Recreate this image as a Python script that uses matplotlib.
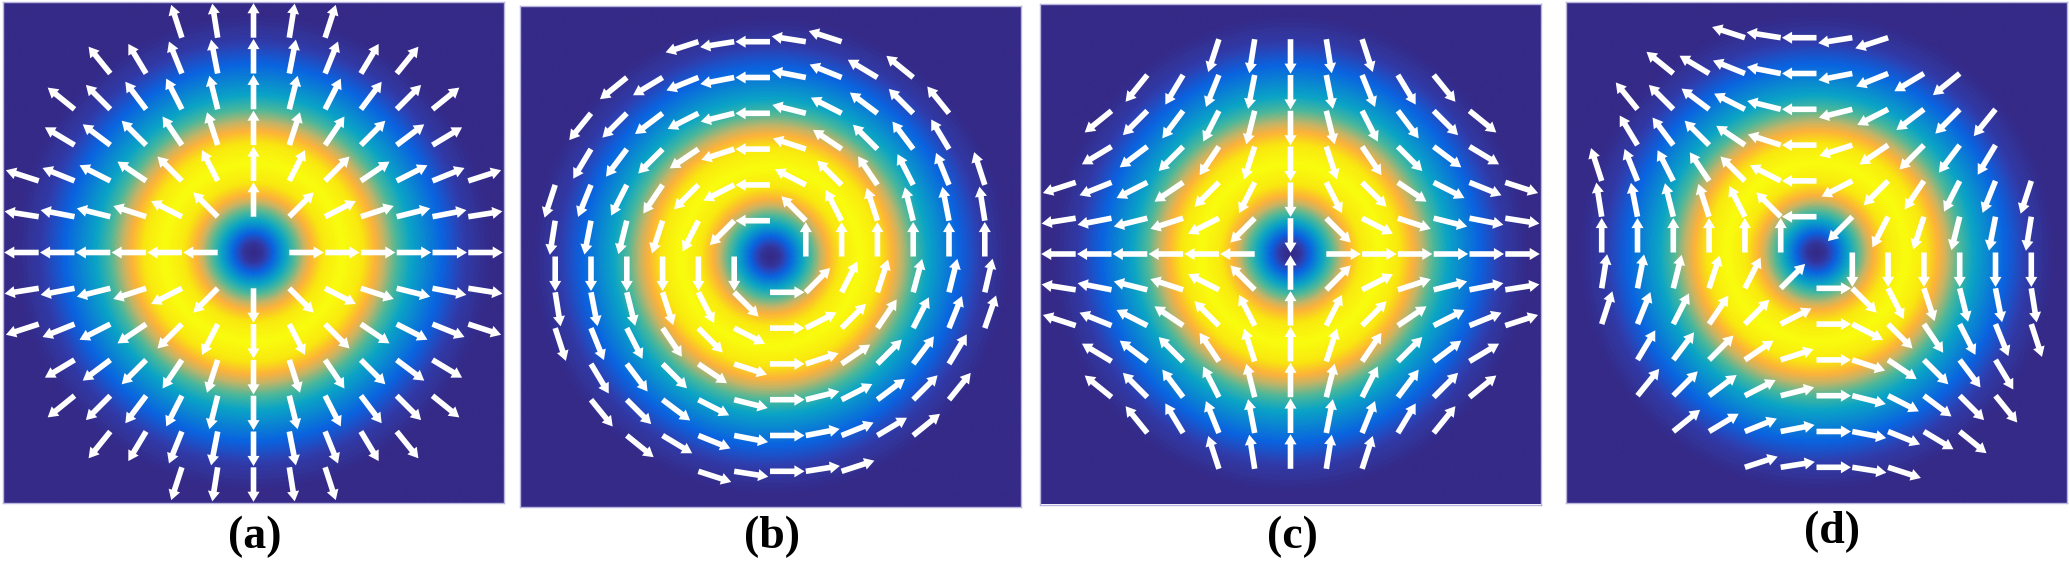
import numpy as np
import matplotlib
matplotlib.use("Agg")
import matplotlib.pyplot as plt
from matplotlib.colors import LinearSegmentedColormap

W, H = 2070, 563
labels = ["(a)", "(b)", "(c)", "(d)"]

# grid rows of arrows (row index, half-width of row)
row_index = [6, 5, 4, 3, 2, 1, 0, -1, -2, -3, -4, -5, -6]
row_half = [2, 4, 5, 5, 6, 6, 6, 6, 6, 5, 5, 4, 2]
N = np.nan

# arrow directions on screen, degrees, one list per row
angles_a = [
    [108, 99, 90, 81, 72],
    [129, 121, 112, 101, 90, 79, 68, 59, 51],
    [141, 135, 127, 117, 104, 90, 76, 63, 53, 45, 39],
    [149, 143, 135, 124, 108, 90, 72, 56, 45, 37, 31],
    [162, 158, 153, 146, 135, 117, 90, 63, 45, 34, 27, 22, 18],
    [171, 169, 166, 162, 153, 135, 90, 45, 27, 18, 14, 11, 9],
    [180, 180, 180, 180, 180, 180, N, 0, 0, 0, 0, 0, 0],
    [-171, -169, -166, -162, -153, -135, -90, -45, -27, -18, -14, -11, -9],
    [-162, -158, -153, -146, -135, -117, -90, -63, -45, -34, -27, -22, -18],
    [-149, -143, -135, -124, -108, -90, -72, -56, -45, -37, -31],
    [-141, -135, -127, -117, -104, -90, -76, -63, -53, -45, -39],
    [-129, -121, -112, -101, -90, -79, -68, -59, -51],
    [-108, -99, -90, -81, -72],
]
angles_b = [
    [198, 189, 180, 171, 162],
    [219, 211, 202, 191, 180, 169, 158, 149, 141],
    [231, 225, 217, 207, 194, 180, 166, 153, 143, 135, 129],
    [239, 233, 225, 214, 198, 180, 162, 146, 135, 127, 121],
    [252, 248, 243, 236, 225, 207, 180, 153, 135, 124, 117, 112, 108],
    [261, 259, 256, 252, 243, 225, 180, 135, 117, 108, 104, 101, 99],
    [270, 270, 270, 270, 270, 270, N, 90, 90, 90, 90, 90, 90],
    [-81, -79, -76, -72, -63, -45, 0, 45, 63, 72, 75, 76, 77],
    [-72, -68, -63, -56, -45, -27, 0, 27, 45, 56, 63, 68, 71],
    [-59, -53, -45, -34, -18, 0, 18, 34, 45, 53, 59],
    [-51, -45, -37, -27, -14, 0, 14, 27, 37, 45, 51],
    [-39, -31, -22, -11, 0, 11, 22, 31, 39],
    [-18, -9, 0, 9, 18],
]
angles_c = [
    [-108, -99, -90, -81, -72],
    [-129, -121, -112, -101, -90, -79, -68, -59, -51],
    [-141, -135, -127, -117, -104, -90, -76, -63, -53, -45, -39],
    [-149, -143, -135, -124, -108, -90, -72, -56, -45, -37, -31],
    [-162, -158, -153, -146, -135, -117, -90, -63, -45, -34, -27, -22, -18],
    [-171, -169, -166, -162, -153, -135, -90, -45, -27, -18, -14, -11, -9],
    [180, 180, 180, 180, 180, 180, N, 0, 0, 0, 0, 0, 0],
    [171, 169, 166, 162, 153, 135, 90, 45, 27, 18, 14, 11, 9],
    [162, 158, 153, 146, 135, 117, 90, 63, 45, 34, 27, 22, 18],
    [149, 143, 135, 124, 108, 90, 72, 56, 45, 37, 31],
    [141, 135, 127, 117, 104, 90, 76, 63, 53, 45, 39],
    [129, 121, 112, 101, 90, 79, 68, 59, 51],
    [108, 99, 90, 81, 72],
]
angles_d = [
    [162, 171, 180, 189, 198],
    [141, 149, 158, 169, 180, 191, 202, 211, 219],
    [129, 135, 143, 153, 166, 180, 194, 207, 217, 225, 231],
    [121, 127, 135, 146, 162, 180, 198, 214, 225, 233, 239],
    [108, 112, 117, 124, 135, 153, 180, 207, 225, 236, 243, 248, 252],
    [99, 101, 104, 108, 117, 135, 180, 225, 243, 252, 256, 259, 261],
    [90, 90, 90, 90, 90, 90, N, 270, 270, 270, 270, 270, 270],
    [81, 79, 76, 72, 63, 45, 0, -45, -63, -72, -76, -79, -81],
    [72, 68, 63, 56, 45, 27, 0, -27, -45, -56, -63, -68, -72],
    [59, 53, 45, 34, 18, 0, -18, -34, -45, -53, -59],
    [51, 45, 37, 27, 14, 0, -14, -27, -37, -45, -51],
    [39, 31, 22, 11, 0, -11, -22, -31, -39],
    [18, 9, 0, -9, -18],
]

# intensity read along a radius, in arrow-grid units
profile_r = [0, 0.25, 0.55, 0.9, 1.15, 1.45, 1.65, 2.0, 2.5, 3.0, 3.4, 3.7, 4.0, 4.4, 5.3, 6.0, 6.6, 7.0, 12]
profile_v = [0, 0.06, 0.25, 0.45, 0.58, 0.71, 0.79, 0.92, 1.0, 0.92, 0.78, 0.68, 0.58, 0.45, 0.25, 0.09, 0.0156, 0, 0]

cmap_pos = [0, 0.12, 0.25, 0.45, 0.58, 0.70, 0.78, 0.90, 1]
cmap_col = ["#352a87", "#2f3fb0", "#0a63e0", "#0ba5c5", "#4cb89a", "#c8b465", "#fdb23a", "#f9e410", "#f9fb0e"]
cmap = LinearSegmentedColormap.from_list("beam", list(zip(cmap_pos, cmap_col)), N=64)

# panel frames in figure pixels: left, right, top, bottom
frames = [
    (3, 504, 2, 503),
    (519.5, 1020.5, 6, 507),
    (1040, 1541, 3.5, 504.5),
    (1566, 2067, 2, 503),
]
label_xy = [(255, 537), (772, 537), (1292, 537), (1832, 532)]
step_px = 35.8
arrow_len = 34.5

fig = plt.figure(figsize=(W / 100, H / 100), dpi=100, facecolor="white")

for (x0, x1, y0, y1), angles, lab, (lx, ly) in zip(
    frames, [angles_a, angles_b, angles_c, angles_d], labels, label_xy
):
    ax = fig.add_axes([x0 / W, 1 - y1 / H, (x1 - x0) / W, (y1 - y0) / H])
    half = (x1 - x0) / 2 / step_px
    xl = (-half, half)
    yl = (-half, half)
    gx, gy = np.meshgrid(np.linspace(*xl, 500), np.linspace(*yl, 500))
    field = np.interp(np.hypot(gx, gy), profile_r, profile_v)
    ax.imshow(field, origin="lower", extent=(*xl, *yl), aspect="auto", cmap=cmap,
              vmin=0, vmax=1, interpolation="bilinear")
    xs, ys, us, vs = [], [], [], []
    for j, hw, row in zip(row_index, row_half, angles):
        for i, a in zip(range(-hw, hw + 1), row):
            if np.isnan(a):
                continue
            xs.append(i)
            ys.append(j)
            us.append(arrow_len * np.cos(np.radians(a)))
            vs.append(arrow_len * np.sin(np.radians(a)))
    ax.quiver(xs, ys, us, vs, angles="uv", units="dots", scale_units="dots", scale=1,
              width=5.6, headwidth=2.15, headlength=1.8, headaxislength=1.8,
              color="white", pivot="tail", zorder=3, clip_on=True)
    ax.set_xlim(*xl)
    ax.set_ylim(*yl)
    ax.set_xticks([])
    ax.set_yticks([])
    for s in ax.spines.values():
        s.set_color("#b9b6de")
        s.set_linewidth(1.0)
    fig.text(lx / W, 1 - ly / H, lab, ha="center", va="center", fontsize=33,
             fontweight="bold", family="Liberation Serif", color="black")

fig.savefig("out.png", dpi=100, facecolor="white")
